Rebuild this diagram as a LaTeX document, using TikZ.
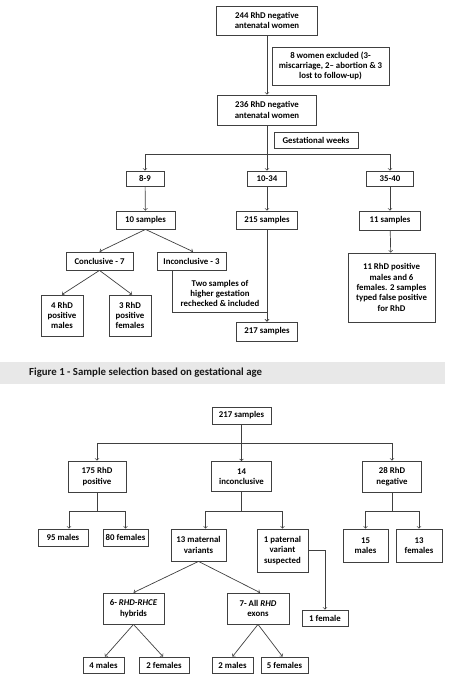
\documentclass[tikz,border=0pt]{standalone}
\usepackage{fontspec}
\setmainfont{Carlito}
\usepackage{tikz}
\usetikzlibrary{calc}

\begin{document}
\begin{tikzpicture}[
		x=1pt, y=-1pt,
		box/.style 2 args={draw=black!75, line width=0.8pt, minimum width=#1, minimum height=#2,
			inner sep=1pt, align=center, font=\fontsize{8.8}{10.4}\selectfont\bfseries},
		link/.style={draw=black!75, line width=0.7pt},
		arr/.style={link, ->},
		]
	\useasboundingbox (0,0) rectangle (474,677);

	% gestational age
	\node (W244) [box={101}{29}] at (267,20.5) {244 RhD negative\\antenatal women};
	\node (Excl) [box={117}{38}] at (330.5,66) {8 women excluded (3-\\miscarriage, 2– abortion \& 3\\lost to follow-up)};
	\node (W236) [box={99}{30}] at (267,110) {236 RhD negative\\antenatal women};
	\node (Gest) [box={84}{16}] at (316,140) {Gestational weeks};
	\node (G89) [box={38}{15}] at (145,178.5) {8-9};
	\node (G1034) [box={39}{15}] at (267,178.5) {10-34};
	\node (G3540) [box={47}{15}] at (390,178.5) {35-40};
	\node (S10) [box={59}{18}] at (145.5,220) {10 samples};
	\node (S215) [box={61}{18}] at (267,220) {215 samples};
	\node (S11) [box={61}{19}] at (390,220.5) {11 samples};
	\node (Conc) [box={67}{18}] at (99.5,261) {Conclusive - 7};
	\node (Inconc) [box={69}{18}] at (191.5,261) {Inconclusive - 3};
	\node (Pos4) [box={42}{41}] at (62,315.5) {4 RhD\\positive\\males};
	\node (Pos3) [box={42}{41}] at (130,315.5) {3 RhD\\positive\\females};
	\node (Fals) [box={87}{69}] at (391.5,287.5) {11 RhD positive\\males and 6\\females. 2 samples\\typed false positive\\for RhD};
	\node (S217) [box={61}{19}] at (267,331.5) {217 samples};
	\node (Note) [align=center, font=\fontsize{8.8}{10.4}\selectfont\bfseries] at (220,293.5) {Two samples of\\higher gestation\\rechecked \& included};
	\coordinate (Split1) at (267,154);
	\coordinate (Join) at (267,312);

	\draw[arr] (W244) -- (W236);
	\draw[arr] (W236) -- (G1034);
	\draw[arr] (Split1) -| (G89);
	\draw[arr] (Split1) -| (G3540);
	\draw[arr] (G89) -- (S10);
	\draw[arr] (G1034) -- (S215);
	\draw[arr] (G3540) -- (S11);
	\draw[arr] (S11) -- (Fals);
	\draw[arr] (S10.south) -- (Conc.north);
	\draw[arr] (S10.south) -- ([xshift=1.5pt]Inconc.north);
	\draw[arr] (Conc.south) -- (Pos4.north);
	\draw[arr] (Conc.south) -- ([xshift=2pt]Pos3.north);
	\draw[arr] (S215) -- (S217);
	\draw[arr] ([xshift=16pt]Inconc.south west) |- (Join) -- (S217.north);

	% caption
	\fill[black!9] (0,362) rectangle (445,384);
	\node (Capt) [anchor=west, text=black!90, inner sep=0pt, font=\fontsize{10.8}{12}\selectfont\bfseries]
		at (29,373) {Figure 1 - Sample selection based on gestational age};

	% genotyping
	\node (T217) [box={59}{17}] at (241.5,415.5) {217 samples};
	\node (P175) [box={58}{31}] at (97,476.5) {175 RhD\\positive};
	\node (I14) [box={60}{30}] at (241.5,476.5) {14\\inconclusive};
	\node (N28) [box={59}{31}] at (392,476.5) {28 RhD\\negative};
	\node (M95) [box={50}{17}] at (63,537.5) {95 males};
	\node (F80) [box={45}{17}] at (125.5,537.5) {80 females};
	\node (Mat13) [box={55}{32}] at (198.5,545) {13 maternal\\variants};
	\node (Pat1) [box={51}{43}] at (282.5,550.5) {1 paternal\\variant\\suspected};
	\node (M15) [box={45}{33}] at (365.5,545.5) {15\\males};
	\node (F13) [box={46}{33}] at (419,545.5) {13\\females};
	\node (Hyb6) [box={61}{31}] at (133.5,608.5) {6- \textit{RHD-RHCE}\\hybrids};
	\node (Exon7) [box={62}{31}] at (258,608.5) {7- All \textit{RHD}\\exons};
	\node (F1) [box={46}{16}] at (325,618) {1 female};
	\node (M4) [box={41}{16}] at (103.5,665) {4 males};
	\node (F2a) [box={50}{16}] at (164,665) {2 females};
	\node (M2) [box={41}{16}] at (232.5,665) {2 males};
	\node (F5) [box={47}{16}] at (284.5,665) {5 females};
	\coordinate (Split2) at (241.5,443);
	\coordinate (Split3) at (97,511.5);
	\coordinate (Split4) at (241.5,511.5);
	\coordinate (Split5) at (392,511.5);

	\draw[arr] (T217) -- (I14);
	\draw[arr] (Split2) -| (P175);
	\draw[arr] (Split2) -| (N28);
	\draw[link] (P175) -- (Split3);
	\draw[arr] (Split3) -| ([xshift=6pt]M95.north);
	\draw[arr] (Split3) -| (F80);
	\draw[link] (I14) -- (Split4);
	\draw[arr] (Split4) -| ([xshift=7pt]Mat13.north);
	\draw[arr] (Split4) -| (Pat1);
	\draw[link] (N28) -- (Split5);
	\draw[arr] (Split5) -| (M15);
	\draw[arr] (Split5) -| (F13);
	\draw[arr] (Pat1.east) -| (F1);
	\draw[arr] (Mat13.south) -- (Hyb6.north);
	\draw[arr] (Mat13.south) -- ([xshift=2pt]Exon7.north);
	\draw[arr] (Hyb6.south) -- ([xshift=1.5pt]M4.north);
	\draw[arr] (Hyb6.south) -- ([xshift=-1pt]F2a.north);
	\draw[arr] (Exon7.south) -- (M2.north);
	\draw[arr] (Exon7.south) -- ([xshift=-2pt]F5.north);
\end{tikzpicture}
\end{document}
